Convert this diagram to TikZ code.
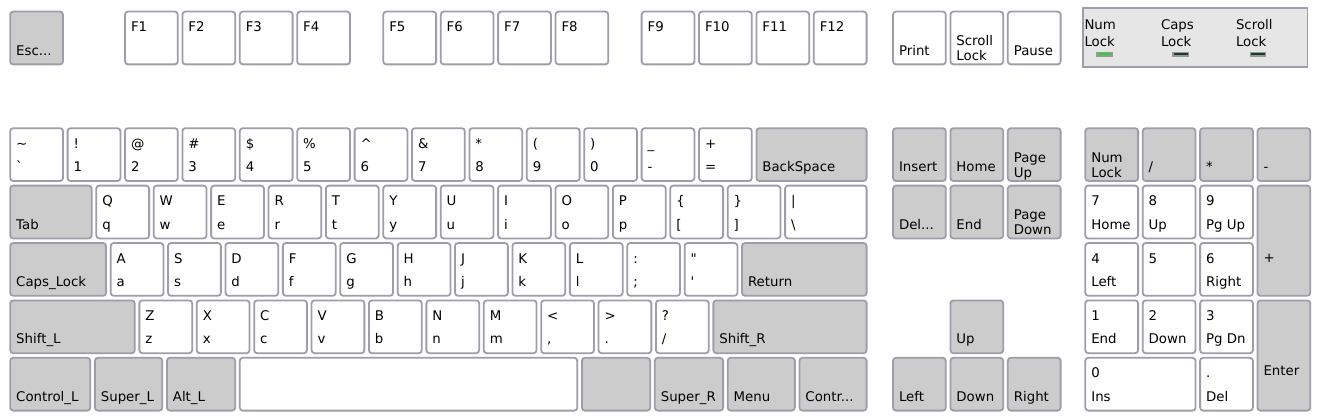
\documentclass[tikz,border=0pt]{standalone}
\usepackage{fontspec}
\setmainfont{DejaVu Sans}
\definecolor{kborder}{RGB}{158,158,170}
\definecolor{kgray}{RGB}{204,204,204}
\definecolor{ledpanel}{RGB}{230,230,230}
\definecolor{ledon}{RGB}{40,215,40}
\definecolor{ledoff}{RGB}{28,64,28}
\definecolor{ledcase}{RGB}{150,150,158}
\newcommand\K[6]{\node[#6, minimum width={#4*57.4-4.6}, minimum height={#5*57.4-4.6}] (#1) at ({10.2+#2*57.4},{#3}) {};}
\newcommand\LT[2]{\node[lab] (#1-t) at ([xshift=6pt,yshift=-20pt]#1.north west) {#2};}
\newcommand\LB[2]{\node[lab] (#1-b) at ([xshift=6pt,yshift=-43.5pt]#1.north west) {#2};}
\newcommand\LA[2]{\node[lab] (#1-a) at ([xshift=6pt,yshift=-33.8pt]#1.north west) {#2};}
\newcommand\LC[2]{\node[lab] (#1-c) at ([xshift=6pt,yshift=-49pt]#1.north west) {#2};}
\newcommand\WK[5]{\K{#1}{#2}{#3}{1}{1}{wkey}\LT{#1}{#4}\LB{#1}{#5}}
\newcommand\GK[5]{\K{#1}{#2}{#3}{#4}{1}{gkey}\LB{#1}{#5}}
\def\rF{11.6}\def\rA{128.2}\def\rB{185.6}\def\rC{243}\def\rD{300.4}\def\rE{357.8}
\begin{document}
\begin{tikzpicture}[x=1pt,y=-1pt,
  keybase/.style={rectangle, draw=kborder, line width=1.8pt, rounded corners=3pt, inner sep=0pt, outer sep=0pt, anchor=north west},
  wkey/.style={keybase, fill=white},
  gkey/.style={keybase, fill=kgray},
  lab/.style={inner sep=0pt, outer sep=0pt, anchor=base west, font=\fontsize{13.33}{15}\selectfont, text=black},
  ledbox/.style={rectangle, draw=ledcase, line width=1.5pt, minimum width=15.2, minimum height=3.5, inner sep=0pt, outer sep=0pt}]
\useasboundingbox (0,0) rectangle (1319,420);
\fill[white] (0,0) rectangle (1319,420);
% function row
\GK{esc}{0}{\rF}{1}{Esc...}
\K{f1}{2}{\rF}{1}{1}{wkey}\LT{f1}{F1}
\K{f2}{3}{\rF}{1}{1}{wkey}\LT{f2}{F2}
\K{f3}{4}{\rF}{1}{1}{wkey}\LT{f3}{F3}
\K{f4}{5}{\rF}{1}{1}{wkey}\LT{f4}{F4}
\K{f5}{6.5}{\rF}{1}{1}{wkey}\LT{f5}{F5}
\K{f6}{7.5}{\rF}{1}{1}{wkey}\LT{f6}{F6}
\K{f7}{8.5}{\rF}{1}{1}{wkey}\LT{f7}{F7}
\K{f8}{9.5}{\rF}{1}{1}{wkey}\LT{f8}{F8}
\K{f9}{11}{\rF}{1}{1}{wkey}\LT{f9}{F9}
\K{f10}{12}{\rF}{1}{1}{wkey}\LT{f10}{F10}
\K{f11}{13}{\rF}{1}{1}{wkey}\LT{f11}{F11}
\K{f12}{14}{\rF}{1}{1}{wkey}\LT{f12}{F12}
\K{print}{15.38}{\rF}{1}{1}{wkey}\LB{print}{Print}
\K{scroll}{16.38}{\rF}{1}{1}{wkey}\LA{scroll}{Scroll}\LC{scroll}{Lock}
\K{pause}{17.38}{\rF}{1}{1}{wkey}\LB{pause}{Pause}
% LED panel
\node[rectangle, draw=kborder, line width=1.8pt, fill=ledpanel, minimum width=224.8, minimum height=59.2, anchor=north west, inner sep=0pt, outer sep=0pt] (leds) at (1082.6,8.2) {};
\node[lab] (ln1) at (1084.5,30) {Num};
\node[lab] (ln2) at (1084.5,46.7) {Lock};
\node[lab] (lc1) at (1161,30) {Caps};
\node[lab] (lc2) at (1161,46.7) {Lock};
\node[lab] (ls1) at (1236,30) {Scroll};
\node[lab] (ls2) at (1236,46.7) {Lock};
\node[ledbox, fill=ledon] (ledn) at (1104.4,54.2) {};
\node[ledbox, fill=ledoff] (ledc) at (1180.7,54.2) {};
\node[ledbox, fill=ledoff] (leds2) at (1258,54.2) {};
% row A
\WK{grave}{0}{\rA}{\textasciitilde}{\textasciigrave}
\WK{k1}{1}{\rA}{!}{1}
\WK{k2}{2}{\rA}{@}{2}
\WK{k3}{3}{\rA}{\#}{3}
\WK{k4}{4}{\rA}{\$}{4}
\WK{k5}{5}{\rA}{\%}{5}
\WK{k6}{6}{\rA}{\textasciicircum}{6}
\WK{k7}{7}{\rA}{\&}{7}
\WK{k8}{8}{\rA}{*}{8}
\WK{k9}{9}{\rA}{(}{9}
\WK{k0}{10}{\rA}{)}{0}
\WK{kminus}{11}{\rA}{\_}{-}
\WK{kequal}{12}{\rA}{+}{=}
\GK{bksp}{13}{\rA}{2}{BackSpace}
% row B
\GK{tab}{0}{\rB}{1.5}{Tab}
\WK{kq}{1.5}{\rB}{Q}{q}
\WK{kw}{2.5}{\rB}{W}{w}
\WK{ke}{3.5}{\rB}{E}{e}
\WK{kr}{4.5}{\rB}{R}{r}
\WK{kt}{5.5}{\rB}{T}{t}
\WK{ky}{6.5}{\rB}{Y}{y}
\WK{ku}{7.5}{\rB}{U}{u}
\WK{ki}{8.5}{\rB}{I}{i}
\WK{ko}{9.5}{\rB}{O}{o}
\WK{kp}{10.5}{\rB}{P}{p}
\WK{klb}{11.5}{\rB}{\{}{[}
\WK{krb}{12.5}{\rB}{\}}{]}
\K{bsl}{13.5}{\rB}{1.5}{1}{wkey}\LT{bsl}{\textbar}\LB{bsl}{\textbackslash}
% row C
\GK{caps}{0}{\rC}{1.75}{Caps\_Lock}
\WK{ka}{1.75}{\rC}{A}{a}
\WK{ks}{2.75}{\rC}{S}{s}
\WK{kd}{3.75}{\rC}{D}{d}
\WK{kf}{4.75}{\rC}{F}{f}
\WK{kg}{5.75}{\rC}{G}{g}
\WK{kh}{6.75}{\rC}{H}{h}
\WK{kj}{7.75}{\rC}{J}{j}
\WK{kk}{8.75}{\rC}{K}{k}
\WK{kl}{9.75}{\rC}{L}{l}
\WK{ksemi}{10.75}{\rC}{:}{;}
\WK{kquote}{11.75}{\rC}{\textquotedbl}{\textquotesingle}
\GK{ret}{12.75}{\rC}{2.25}{Return}
% row D
\GK{shl}{0}{\rD}{2.25}{Shift\_L}
\WK{kz}{2.25}{\rD}{Z}{z}
\WK{kx}{3.25}{\rD}{X}{x}
\WK{kc}{4.25}{\rD}{C}{c}
\WK{kv}{5.25}{\rD}{V}{v}
\WK{kb}{6.25}{\rD}{B}{b}
\WK{kn}{7.25}{\rD}{N}{n}
\WK{km}{8.25}{\rD}{M}{m}
\WK{kcomma}{9.25}{\rD}{<}{,}
\WK{kdot}{10.25}{\rD}{>}{.}
\WK{kslash}{11.25}{\rD}{?}{/}
\GK{shr}{12.25}{\rD}{2.75}{Shift\_R}
% row E
\GK{ctl}{0}{\rE}{1.475}{Control\_L}
\GK{supl}{1.475}{\rE}{1.255}{Super\_L}
\GK{altl}{2.73}{\rE}{1.27}{Alt\_L}
\K{space}{4}{\rE}{5.96}{1}{wkey}
\K{altgr}{9.96}{\rE}{1.27}{1}{gkey}
\GK{supr}{11.23}{\rE}{1.27}{Super\_R}
\GK{menu}{12.5}{\rE}{1.25}{Menu}
\GK{ctr}{13.75}{\rE}{1.25}{Contr...}
% navigation
\GK{ins}{15.38}{\rA}{1}{Insert}
\GK{home}{16.38}{\rA}{1}{Home}
\K{pgup}{17.38}{\rA}{1}{1}{gkey}\LA{pgup}{Page}\LC{pgup}{Up}
\GK{del}{15.38}{\rB}{1}{Del...}
\GK{end}{16.38}{\rB}{1}{End}
\K{pgdn}{17.38}{\rB}{1}{1}{gkey}\LA{pgdn}{Page}\LC{pgdn}{Down}
\GK{up}{16.38}{\rD}{1}{Up}
\GK{left}{15.38}{\rE}{1}{Left}
\GK{down}{16.38}{\rE}{1}{Down}
\GK{right}{17.38}{\rE}{1}{Right}
% keypad
\K{numl}{18.73}{\rA}{1}{1}{gkey}\LA{numl}{Num}\LC{numl}{Lock}
\GK{kpdiv}{19.73}{\rA}{1}{/}
\GK{kpmul}{20.73}{\rA}{1}{*}
\GK{kpsub}{21.73}{\rA}{1}{-}
\WK{kp7}{18.73}{\rB}{7}{Home}
\WK{kp8}{19.73}{\rB}{8}{Up}
\WK{kp9}{20.73}{\rB}{9}{Pg Up}
\K{kpadd}{21.73}{\rB}{1}{2}{gkey}
\node[lab] (kpadd-l) at ([xshift=6pt,yshift=-77pt]kpadd.north west) {+};
\WK{kp4}{18.73}{\rC}{4}{Left}
\K{kp5}{19.73}{\rC}{1}{1}{wkey}\LT{kp5}{5}
\WK{kp6}{20.73}{\rC}{6}{Right}
\WK{kp1}{18.73}{\rD}{1}{End}
\WK{kp2}{19.73}{\rD}{2}{Down}
\WK{kp3}{20.73}{\rD}{3}{Pg Dn}
\K{kpent}{21.73}{\rD}{1}{2}{gkey}
\node[lab] (kpent-l) at ([xshift=6pt,yshift=-75pt]kpent.north west) {Enter};
\K{kp0}{18.73}{\rE}{2}{1}{wkey}\LT{kp0}{0}\LB{kp0}{Ins}
\WK{kpdec}{20.73}{\rE}{.}{Del}
\end{tikzpicture}
\end{document}
